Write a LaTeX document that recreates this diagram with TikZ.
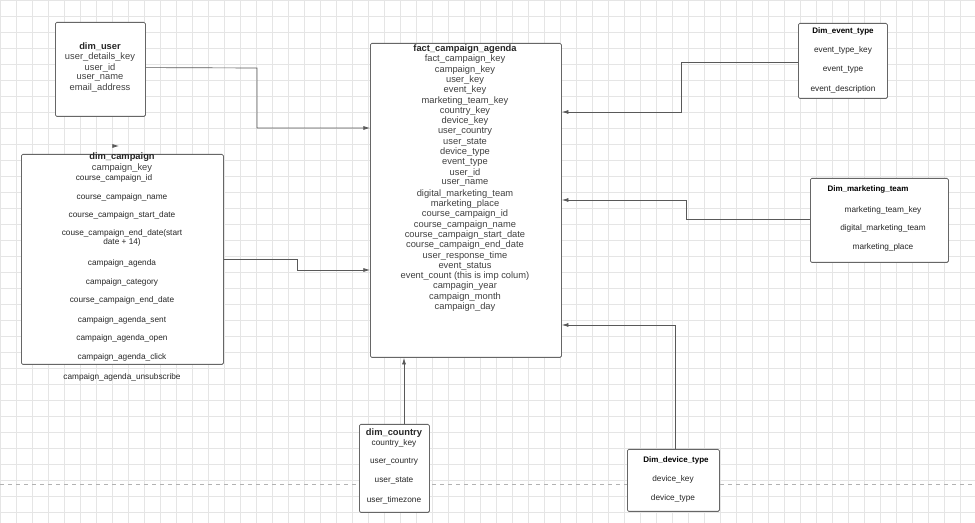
\documentclass[tikz,border=0pt]{standalone}
\usepackage{fontspec}
\setmainfont{Liberation Sans}
\usetikzlibrary{arrows.meta}
\begin{document}
\begin{tikzpicture}[x=0.75pt,y=-0.75pt,
  tbl/.style={draw=black!60,fill=white,rounded corners=1pt,line width=0.6pt,inner sep=0pt,anchor=north west},
  lbl/.style={inner sep=0pt,font=\fontsize{7}{7}\selectfont,text=black!75},
  sml/.style={inner sep=0pt,font=\fontsize{6.2}{6.4}\selectfont,text=black!85},
  ttl/.style={inner sep=0pt,font=\bfseries\fontsize{7}{7}\selectfont,text=black!85},
  stl/.style={inner sep=0pt,font=\bfseries\fontsize{6}{6}\selectfont},
  con/.style={draw=black!65,line width=0.5pt,-{Latex[length=5pt,width=3pt]}}]
\useasboundingbox (0,0) rectangle (975,523);
\fill[white] (0,0) rectangle (975,523);
\foreach \g in {0,16,...,975} \draw[black!10,line width=0.4pt] (\g,0) -- (\g,523);
\foreach \g in {0,16,...,523} \draw[black!10,line width=0.4pt] (0,\g) -- (975,\g);
\draw[black!30,dashed,line width=0.6pt] (0,484) -- (975,484);
% dim_user
\node[tbl,minimum width=67.5pt,minimum height=70.5pt] (du) at (55,22) {};
\node[ttl] (du0) at (100,47) {dim\_user};
\foreach \t [count=\i] in {user\_details\_key,user\_id,user\_name,email\_address}
  \node[lbl] (du\i) at (100,47+10.3*\i) {\t};
% dim_campaign
\node[tbl,minimum width=151.5pt,minimum height=157.5pt] (dc) at (21,154) {};
\node[ttl] (dc0) at (122,157) {dim\_campaign};
\node[lbl] (dc1) at (122,168) {campaign\_key};
\node[sml] (dc2) at (114,178) {course\_campaign\_id};
\node[sml] (dc3) at (122,197) {course\_campaign\_name};
\node[sml] (dc4) at (122,215) {course\_campaign\_start\_date};
\node[sml,align=center] (dc5) at (122,238) {couse\_campaign\_end\_date(start\\date + 14)};
\node[sml] (dc6) at (122,263) {campaign\_agenda};
\node[sml] (dc7) at (122,282) {campaign\_category};
\node[sml] (dc8) at (122,300) {course\_campaign\_end\_date};
\node[sml] (dc9) at (122,320) {campaign\_agenda\_sent};
\node[sml] (dc10) at (122,338) {campaign\_agenda\_open};
\node[sml] (dc11) at (122,357) {campaign\_agenda\_click};
\node[sml] (dc12) at (122,377) {campaign\_agenda\_unsubscribe};
\coordinate (stub) at (113,146);
\draw[con] (stub) -- ++(6,0);
% fact
\node[tbl,minimum width=143.25pt,minimum height=235.5pt] (f) at (370,43) {};
\node[ttl] (f0) at (465,49) {fact\_campaign\_agenda};
\foreach \t [count=\i] in {fact\_campaign\_key,campaign\_key,user\_key,event\_key,marketing\_team\_key,country\_key,device\_key,user\_country,user\_state,device\_type,event\_type,user\_id,user\_name,digital\_marketing\_team,marketing\_place,course\_campaign\_id,course\_campaign\_name,course\_campaign\_start\_date,course\_campaign\_end\_date,user\_response\_time,event\_status,event\_count (this is imp colum),campagin\_year,campaign\_month,campaign\_day}
  \node[lbl] (f\i) at (465,49+10.33*\i) {\t};
% Dim_event_type
\node[tbl,minimum width=66.75pt,minimum height=56.25pt] (de) at (798,23) {};
\node[stl] (de0) at (843,31) {Dim\_event\_type};
\node[sml] (de1) at (843,50) {event\_type\_key};
\node[sml] (de2) at (843,70) {event\_type};
\node[sml] (de3) at (843,89) {event\_description};
% Dim_marketing_team
\node[tbl,minimum width=103.5pt,minimum height=63pt] (dm) at (810,178) {};
\node[stl] (dm0) at (868,189) {Dim\_marketing\_team};
\node[sml] (dm1) at (883,210) {marketing\_team\_key};
\node[sml] (dm2) at (883,228) {digital\_marketing\_team};
\node[sml] (dm3) at (883,247) {marketing\_place};
% dim_country
\node[tbl,minimum width=52.5pt,minimum height=66pt] (dco) at (359,424) {};
\node[ttl] (dco0) at (394,433) {dim\_country};
\node[sml] (dco1) at (394,443) {country\_key};
\node[sml] (dco2) at (394,462) {user\_country};
\node[sml] (dco3) at (394,481) {user\_state};
\node[sml] (dco4) at (394,500) {user\_timezone};
% Dim_device_type
\node[tbl,minimum width=69pt,minimum height=46.5pt] (dd) at (627,449) {};
\node[stl] (dd0) at (676,460) {Dim\_device\_type};
\node[sml] (dd1) at (673,479) {device\_key};
\node[sml] (dd2) at (673,498) {device\_type};
% connectors
\draw[con] (du.east |- du2) -- (257,68) -- (257,128) -- (f.west |- 0,128);
\draw[con] (dc.east |- 0,259) -- (297,259) -- (297,270) -- (f.west |- 0,270);
\draw[con] (de.west |- 0,62) -- (681,62) -- (681,112) -- (f.east |- 0,112);
\draw[con] (dm.west |- 0,219) -- (686,219) -- (686,200) -- (f.east |- 0,200);
\draw[con] (dco.north -| 404,0) -- (f.south -| 404,0);
\draw[con] (dd.north -| 675,0) -- (675,325) -- (f.east |- 0,325);
\end{tikzpicture}
\end{document}
